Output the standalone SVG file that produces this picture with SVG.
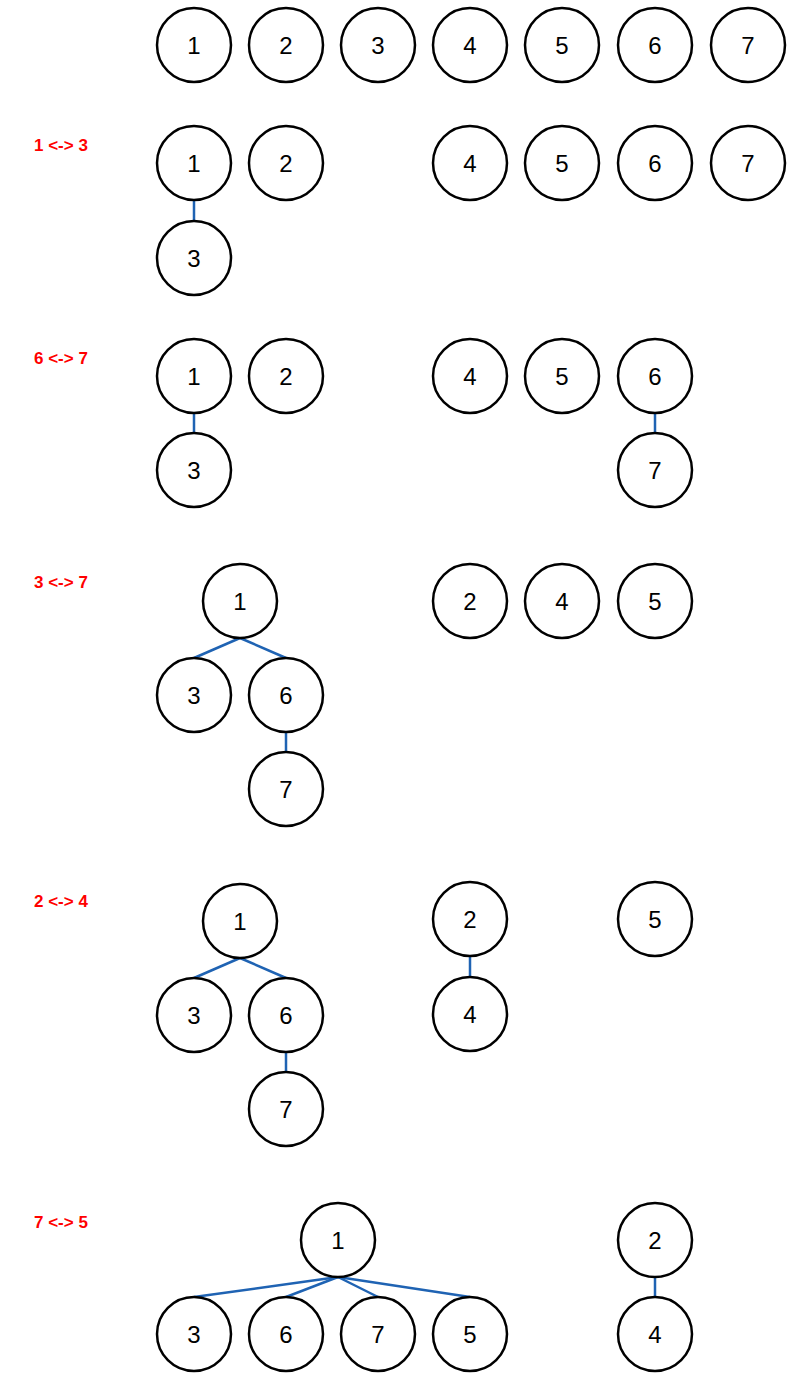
<svg xmlns="http://www.w3.org/2000/svg" width="800" height="1382" viewBox="0 0 800 1382">
<style>
.n circle{fill:#fff;stroke:#000;stroke-width:2.5}
.n text{font-family:"Liberation Sans",Arial,sans-serif;font-size:24px;text-anchor:middle;dominant-baseline:central;fill:#000}
.e line{stroke:#1f63b3;stroke-width:2.5}
.l{font-family:"Liberation Sans",Arial,sans-serif;font-size:17px;font-weight:bold;fill:#f00}
</style>
<rect width="800" height="1382" fill="#fff"/>
<text class="l" x="34" y="151">1 &lt;-&gt; 3</text>
<text class="l" x="34" y="364">6 &lt;-&gt; 7</text>
<text class="l" x="34" y="588">3 &lt;-&gt; 7</text>
<text class="l" x="34" y="907">2 &lt;-&gt; 4</text>
<text class="l" x="34" y="1228">7 &lt;-&gt; 5</text>
<g class="e" id="edges">
<line x1="194" y1="163" x2="194" y2="258"/>
<line x1="194" y1="376" x2="194" y2="470"/>
<line x1="655" y1="376" x2="655" y2="470"/>
<line x1="240" y1="638" x2="194" y2="658"/>
<line x1="240" y1="638" x2="286" y2="658"/>
<line x1="286" y1="695" x2="286" y2="789"/>
<line x1="240" y1="958" x2="194" y2="978"/>
<line x1="240" y1="958" x2="286" y2="978"/>
<line x1="286" y1="1015" x2="286" y2="1109"/>
<line x1="470" y1="919" x2="470" y2="1014"/>
<line x1="338" y1="1277" x2="194" y2="1297"/>
<line x1="338" y1="1277" x2="286" y2="1297"/>
<line x1="338" y1="1277" x2="378" y2="1297"/>
<line x1="338" y1="1277" x2="470" y2="1297"/>
<line x1="655" y1="1240" x2="655" y2="1334"/>
</g>
<g class="n" id="r1n1"><circle cx="194" cy="45" r="37"/><text x="194" y="45">1</text></g>
<g class="n" id="r1n2"><circle cx="286" cy="45" r="37"/><text x="286" y="45">2</text></g>
<g class="n" id="r1n3"><circle cx="378" cy="45" r="37"/><text x="378" y="45">3</text></g>
<g class="n" id="r1n4"><circle cx="470" cy="45" r="37"/><text x="470" y="45">4</text></g>
<g class="n" id="r1n5"><circle cx="562" cy="45" r="37"/><text x="562" y="45">5</text></g>
<g class="n" id="r1n6"><circle cx="655" cy="45" r="37"/><text x="655" y="45">6</text></g>
<g class="n" id="r1n7"><circle cx="748" cy="45" r="37"/><text x="748" y="45">7</text></g>
<g class="n" id="r2n1"><circle cx="194" cy="163" r="37"/><text x="194" y="163">1</text></g>
<g class="n" id="r2n2"><circle cx="286" cy="163" r="37"/><text x="286" y="163">2</text></g>
<g class="n" id="r2n3"><circle cx="194" cy="258" r="37"/><text x="194" y="258">3</text></g>
<g class="n" id="r2n4"><circle cx="470" cy="163" r="37"/><text x="470" y="163">4</text></g>
<g class="n" id="r2n5"><circle cx="562" cy="163" r="37"/><text x="562" y="163">5</text></g>
<g class="n" id="r2n6"><circle cx="655" cy="163" r="37"/><text x="655" y="163">6</text></g>
<g class="n" id="r2n7"><circle cx="748" cy="163" r="37"/><text x="748" y="163">7</text></g>
<g class="n" id="r3n1"><circle cx="194" cy="376" r="37"/><text x="194" y="376">1</text></g>
<g class="n" id="r3n2"><circle cx="286" cy="376" r="37"/><text x="286" y="376">2</text></g>
<g class="n" id="r3n3"><circle cx="194" cy="470" r="37"/><text x="194" y="470">3</text></g>
<g class="n" id="r3n4"><circle cx="470" cy="376" r="37"/><text x="470" y="376">4</text></g>
<g class="n" id="r3n5"><circle cx="562" cy="376" r="37"/><text x="562" y="376">5</text></g>
<g class="n" id="r3n6"><circle cx="655" cy="376" r="37"/><text x="655" y="376">6</text></g>
<g class="n" id="r3n7"><circle cx="655" cy="470" r="37"/><text x="655" y="470">7</text></g>
<g class="n" id="r4n1"><circle cx="240" cy="601" r="37"/><text x="240" y="601">1</text></g>
<g class="n" id="r4n3"><circle cx="194" cy="695" r="37"/><text x="194" y="695">3</text></g>
<g class="n" id="r4n6"><circle cx="286" cy="695" r="37"/><text x="286" y="695">6</text></g>
<g class="n" id="r4n7"><circle cx="286" cy="789" r="37"/><text x="286" y="789">7</text></g>
<g class="n" id="r4n2"><circle cx="470" cy="601" r="37"/><text x="470" y="601">2</text></g>
<g class="n" id="r4n4"><circle cx="562" cy="601" r="37"/><text x="562" y="601">4</text></g>
<g class="n" id="r4n5"><circle cx="655" cy="601" r="37"/><text x="655" y="601">5</text></g>
<g class="n" id="r5n1"><circle cx="240" cy="921" r="37"/><text x="240" y="921">1</text></g>
<g class="n" id="r5n3"><circle cx="194" cy="1015" r="37"/><text x="194" y="1015">3</text></g>
<g class="n" id="r5n6"><circle cx="286" cy="1015" r="37"/><text x="286" y="1015">6</text></g>
<g class="n" id="r5n7"><circle cx="286" cy="1109" r="37"/><text x="286" y="1109">7</text></g>
<g class="n" id="r5n2"><circle cx="470" cy="919" r="37"/><text x="470" y="919">2</text></g>
<g class="n" id="r5n4"><circle cx="470" cy="1014" r="37"/><text x="470" y="1014">4</text></g>
<g class="n" id="r5n5"><circle cx="655" cy="919" r="37"/><text x="655" y="919">5</text></g>
<g class="n" id="r6n1"><circle cx="338" cy="1240" r="37"/><text x="338" y="1240">1</text></g>
<g class="n" id="r6n3"><circle cx="194" cy="1334" r="37"/><text x="194" y="1334">3</text></g>
<g class="n" id="r6n6"><circle cx="286" cy="1334" r="37"/><text x="286" y="1334">6</text></g>
<g class="n" id="r6n7"><circle cx="378" cy="1334" r="37"/><text x="378" y="1334">7</text></g>
<g class="n" id="r6n5"><circle cx="470" cy="1334" r="37"/><text x="470" y="1334">5</text></g>
<g class="n" id="r6n2"><circle cx="655" cy="1240" r="37"/><text x="655" y="1240">2</text></g>
<g class="n" id="r6n4"><circle cx="655" cy="1334" r="37"/><text x="655" y="1334">4</text></g>
</svg>
